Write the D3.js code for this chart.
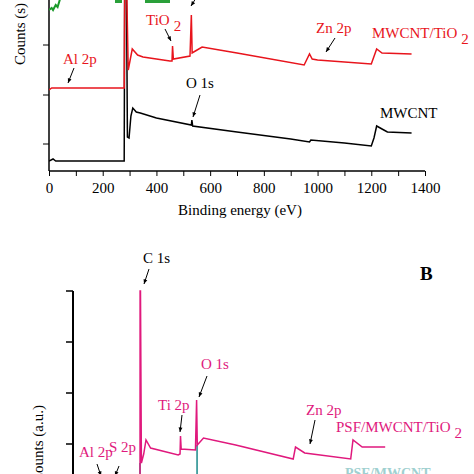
<!DOCTYPE html>
<html><head><meta charset="utf-8">
<script src="https://cdn.jsdelivr.net/npm/d3@7"></script>
<style>body{margin:0;background:#fff}text{font-family:"Liberation Serif","DejaVu Serif",serif}</style>
</head><body>
<svg id="c" width="474" height="474"></svg>
<script>
// panel A spectra, [binding energy, counts]
const mwcnt = [[0,10],[15,12],[25,10],[280,10],[282,200],[288,200],[292,34],[298,33],[305,55],[312,63],[325,59],[340,58],[400,53],[530,46],[532,51],[535,45],[700,39],[900,32],[970,29],[975,31],[1100,28],[1200,25],[1210,33],[1220,45],[1240,42],[1260,39],[1350,38]]
const mwcntTio2 = [[0,81],[10,83],[280,83],[282,200],[288,200],[295,101],[310,122],[330,116],[350,114],[450,110],[458,110],[460,125],[463,112],[525,115],[530,156],[533,118],[545,120],[570,124],[700,118],[950,106],[970,117],[980,112],[1000,111],[1200,107],[1220,122],[1240,118],[1350,117]]
const green = [[0,161],[10,163],[15,161],[25,166],[32,164],[40,171],[50,185]]
// panel B spectra
const psf = [[284,-20],[284.3,183],[286,183],[290,11],[300,20],[310,34],[330,26],[450,19],[458,20],[460,38],[463,25],[525,24],[530,74],[533,29],[560,36],[700,29],[950,15],[960,27],[1000,21],[1200,15],[1210,34],[1250,27],[1350,27]]
const teal = [[[284,11],[284,-30]],[[532,29],[532,-30]]]
const xTicks = [0,200,400,600,800,1000,1200,1400]

const svg = d3.select('#c')
const defs = svg.append('defs')
defs.append('clipPath').attr('id','clipA').append('rect').attr('x',49).attr('y',0).attr('width',380).attr('height',171)

// ---- panel A
const xA = d3.scaleLinear().domain([0,1400]).range([49,425])
const yA = d3.scaleLinear().domain([0,171]).range([171,0])
const gA = svg.append('g')
gA.append('g').attr('transform','translate(0,171)')
  .call(d3.axisBottom(xA).tickValues(d3.range(0,1401,100)).tickSize(5).tickFormat(d => d % 200 ? '' : d))
  .call(g => g.select('.domain').attr('stroke-width',1.5).attr('d','M49,0H425'))
  .call(g => g.selectAll('text').attr('font-size',15).attr('font-family','Liberation Serif').attr('dy','0.9em'))
gA.append('line').attr('x1',49).attr('x2',49).attr('y1',0).attr('y2',171).attr('stroke','#000').attr('stroke-width',1.5)
;[45,95,144].forEach(y => gA.append('line').attr('x1',43).attr('x2',49).attr('y1',y).attr('y2',y).attr('stroke','#000'))
const lineA = d3.line().x(d => xA(d[0])).y(d => yA(d[1]))
const cA = gA.append('g').attr('clip-path','url(#clipA)')
cA.append('path').attr('d',lineA(mwcnt)).attr('fill','none').attr('stroke','#000').attr('stroke-width',1.5)
cA.append('path').attr('d',lineA(mwcntTio2)).attr('fill','none').attr('stroke','#e8141c').attr('stroke-width',1.5)
cA.append('path').attr('d',lineA(green)).attr('fill','none').attr('stroke','#1a9a2a').attr('stroke-width',2)
;[[115,122],[145,170]].forEach(r => cA.append('rect').attr('x',r[0]).attr('y',0).attr('width',r[1]-r[0]).attr('height',3).attr('fill','#2aa03a'))
gA.append('text').attr('x',240).attr('y',215).attr('text-anchor','middle').attr('font-size',15).text('Binding energy (eV)')
gA.append('text').attr('transform','translate(25,65) rotate(-90)').attr('font-size',15).text('Counts (s)')

function label(t, x, y, col, sub, size) {
  const e = svg.append('text').attr('x',x).attr('y',y).attr('fill',col).attr('font-size',size || 15).text(t)
  if (sub) e.append('tspan').attr('dx',4).attr('dy',6).text(sub)
}
function arrow(x1,y1,x2,y2) {
  svg.append('line').attr('x1',x1).attr('y1',y1).attr('x2',x2).attr('y2',y2).attr('stroke','#000')
  const a = Math.atan2(y2-y1,x2-x1), l = 5
  svg.append('path').attr('d',`M${x2},${y2}L${x2-l*Math.cos(a-0.4)},${y2-l*Math.sin(a-0.4)}L${x2-l*Math.cos(a+0.4)},${y2-l*Math.sin(a+0.4)}Z`).attr('fill','#000')
}
const red = '#e8141c', pink = '#e0197d'
label('TiO',146,25,red,'2'); arrow(165,29,171,41)
arrow(196,-2,191,6)
label('Zn 2p',316,33,red); arrow(335,38,326,52)
label('MWCNT/TiO',372,38,red,'2')
label('Al 2p',63,64,red); arrow(74,68,68,83)
label('O 1s',186,88,'#000'); arrow(200,95,193,117)
label('MWCNT',380,118,'#000')

// ---- panel B
const xB = d3.scaleLinear().domain([0,1400]).range([74.7,74.7+1400*0.23])
const yB = d3.scaleLinear().domain([0,200]).range([474,274])
const lineB = d3.line().x(d => xB(d[0])).y(d => yB(d[1]))
svg.append('line').attr('x1',73).attr('x2',73).attr('y1',291).attr('y2',480).attr('stroke','#000').attr('stroke-width',2)
;[291,342,393,444].forEach(y => svg.append('line').attr('x1',66).attr('x2',73).attr('y1',y).attr('y2',y).attr('stroke','#000').attr('stroke-width',1.5))
teal.forEach(t => svg.append('path').attr('d',lineB(t)).attr('stroke','#1a8a8a').attr('stroke-width',1.5))
svg.append('path').attr('d',lineB(psf)).attr('fill','none').attr('stroke',pink).attr('stroke-width',1.5)
label('C 1s',143,263,'#000'); arrow(149,269,144,284)
svg.append('text').attr('x',420).attr('y',280).attr('font-family','Liberation Sans').attr('font-weight','bold').attr('font-size',19).text('B')
label('O 1s',201,369,pink); arrow(207,376,199,397)
label('Ti 2p',158,410,pink); arrow(182,415,180,432)
label('Zn 2p',306,415,pink); arrow(315,420,310,444)
label('PSF/MWCNT/TiO',336,432,pink,'2')
label('Al 2p',79,457,pink); label('S 2p',109,452,pink)
arrow(97,464,101,476); arrow(119,466,115,476)
svg.append('text').attr('x',345).attr('y',478).attr('fill','#9fd0d0').attr('font-size',14).attr('font-weight','bold').text('PSF/MWCNT')
svg.append('text').attr('transform','translate(43,405) rotate(-90)').attr('text-anchor','end').attr('font-size',15).text('Counts (a.u.)')
</script></body></html>
